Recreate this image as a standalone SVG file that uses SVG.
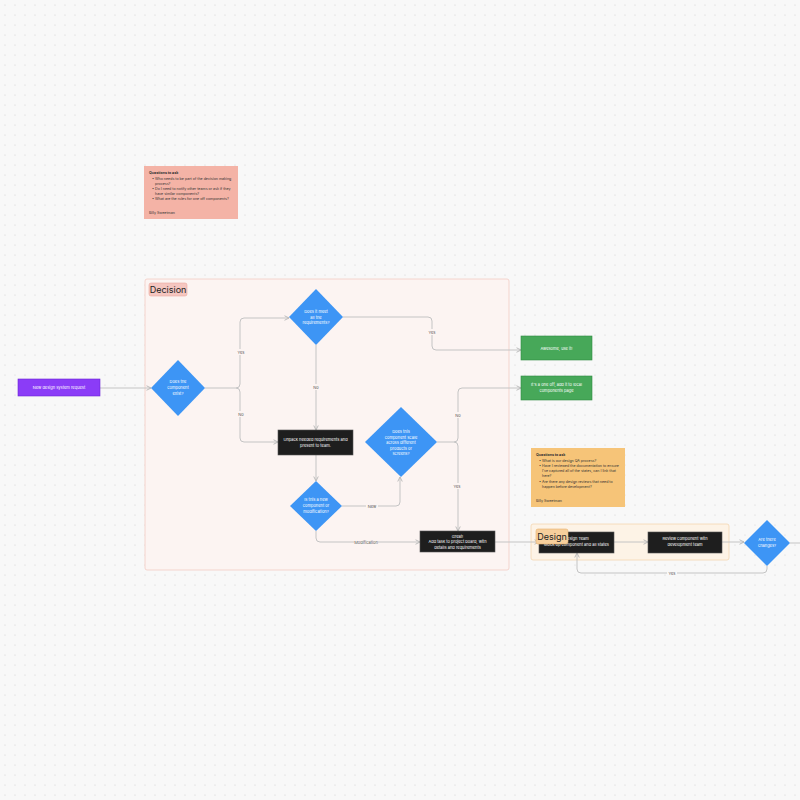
<svg xmlns="http://www.w3.org/2000/svg" width="800" height="800" viewBox="0 0 800 800">
<defs>
<pattern id="dots" width="10" height="10" patternUnits="userSpaceOnUse"><circle cx="5" cy="5" r="0.6" fill="#cfcfcf"/></pattern>
<marker id="ar" viewBox="0 0 8 8" refX="7" refY="4" markerWidth="6" markerHeight="6" orient="auto"><path d="M1 1 L7 4 L1 7" fill="none" stroke="#b5b5b5" stroke-width="1.2"/></marker>
</defs>
<style>
text{font-family:"Inter","Liberation Sans",sans-serif}
.w{fill:#fff;font-size:4px;text-anchor:middle}
.lbl{fill:#555;font-size:4px;text-anchor:middle}
.c{fill:none;stroke:#c4c4c4;stroke-width:1}
.dia{fill:#3d95f5}
.blk{fill:#1e1e1e;stroke:#555;stroke-width:0.6}
.grn{fill:#47a859;stroke:#2f8a42;stroke-width:0.6}
.st{font-size:3.6px;fill:#333}
</style>
<rect width="800" height="800" fill="#f8f8f8"/>
<rect width="800" height="800" fill="url(#dots)"/>
<g id="note1">
<rect x="144" y="166" width="94" height="53" fill="#f4b3a6"/>
<text class="st" x="149" y="174" font-weight="bold">Questions to ask</text>
<text class="st" x="152" y="180">•  Who needs to be part of the decision making</text>
<text class="st" x="155" y="185">process?</text>
<text class="st" x="152" y="190">•  Do I need to notify other teams or ask if they</text>
<text class="st" x="155" y="195">have similar components?</text>
<text class="st" x="152" y="200">•  What are the rules for one off components?</text>
<text class="st" x="149" y="214" fill="#777" font-size="3px">Billy Sweetman</text>
</g>
<g id="frame-decision">
<rect x="145" y="279" width="364" height="291" rx="2" fill="#fcf4f2" stroke="#f2cbc3" stroke-width="0.8"/>
<rect x="149" y="283" width="38" height="13" rx="2" fill="#f5c6c0" stroke="#e9a9a0" stroke-width="0.6"/>
<text x="168" y="293" font-size="9" text-anchor="middle" fill="#222">Decision</text>
</g>
<g id="frame-design">
<rect x="531" y="524" width="198" height="36" rx="2" fill="#fdf3e6" stroke="#f4d6b0" stroke-width="0.8"/>
</g>
<g id="note2">
<rect x="531" y="448" width="94" height="59" fill="#f6c478"/>
<text class="st" x="536" y="456" font-weight="bold">Questions to ask</text>
<text class="st" x="539" y="462">•  What is our design QA process?</text>
<text class="st" x="539" y="467">•  Have I reviewed the documentation to ensure</text>
<text class="st" x="542" y="472">I've captured all of the states, can I link that</text>
<text class="st" x="542" y="477">here?</text>
<text class="st" x="539" y="483">•  Are there any design reviews that need to</text>
<text class="st" x="542" y="488">happen before development?</text>
<text class="st" x="536" y="502" fill="#777" font-size="3px">Billy Sweetman</text>
</g>
<g id="connectors">
<path class="c" d="M100 388 H151" marker-end="url(#ar)"/>
<path class="c" d="M205 388 H236 Q240 388 240 384 V322 Q240 318 244 318 H289" marker-end="url(#ar)"/>
<path class="c" d="M236 388 Q240 388 240 392 V438 Q240 442 244 442 H278" marker-end="url(#ar)"/>
<path class="c" d="M316 345 V430" marker-end="url(#ar)"/>
<path class="c" d="M343 317 H428 Q432 317 432 321 V346 Q432 350 436 350 H521" marker-end="url(#ar)"/>
<path class="c" d="M316 455 V481" marker-end="url(#ar)"/>
<path class="c" d="M342 506 H396 Q400 506 400 502 V477" marker-end="url(#ar)"/>
<path class="c" d="M316 531 V538 Q316 542 320 542 H420" marker-end="url(#ar)"/>
<path class="c" d="M437 442 H454 Q458 442 458 438 V392 Q458 388 462 388 H521" marker-end="url(#ar)"/>
<path class="c" d="M454 442 Q458 442 458 446 V531" marker-end="url(#ar)"/>
<path class="c" d="M495 542 H539" marker-end="url(#ar)"/>
<path class="c" d="M614 542 H648" marker-end="url(#ar)"/>
<path class="c" d="M722 542 H744" marker-end="url(#ar)"/>
<path class="c" d="M790 543 H800"/>
<path class="c" d="M767 566 V569 Q767 573 763 573 H581 Q577 573 577 569 V553" marker-end="url(#ar)"/>
<g>
<rect x="237" y="349" width="8" height="6" fill="#fcf4f2"/><text class="lbl" x="241" y="353.5">Yes</text>
<rect x="237" y="411" width="8" height="6" fill="#fcf4f2"/><text class="lbl" x="241" y="415.5">No</text>
<rect x="312" y="384" width="8" height="6" fill="#fcf4f2"/><text class="lbl" x="316" y="388.5">No</text>
<rect x="428" y="329" width="8" height="6" fill="#fcf4f2"/><text class="lbl" x="432" y="333.5">Yes</text>
<rect x="366" y="503" width="12" height="6" fill="#fcf4f2"/><text class="lbl" x="372" y="507.5">New</text>
<rect x="354" y="539" width="24" height="6" fill="#fcf4f2"/><text class="lbl" x="366" y="543.5">Modification</text>
<rect x="454" y="412" width="8" height="6" fill="#fcf4f2"/><text class="lbl" x="458" y="416.5">No</text>
<rect x="453" y="483" width="8" height="6" fill="#fcf4f2"/><text class="lbl" x="457" y="487.5">Yes</text>
<rect x="667" y="570" width="10" height="6" fill="#f8f8f8"/><text class="lbl" x="672" y="574.5">Yes</text>
</g>
</g>
<g id="start"><rect x="18" y="379" width="82" height="17" fill="#8b3cf7" stroke="#6d22d6" stroke-width="0.6"/><text class="w" x="59" y="389">New design system request</text></g>
<g id="d1"><path class="dia" d="M178 360 L205 388 L178 416 L151 388Z"/><text class="w" x="178" y="383">Does the</text><text class="w" x="178" y="389">component</text><text class="w" x="178" y="395">exist?</text></g>
<g id="d2"><path class="dia" d="M316 289 L343 317 L316 345 L289 317Z"/><text class="w" x="316" y="313">Does it meet</text><text class="w" x="316" y="318.5">all the</text><text class="w" x="316" y="324">requirements?</text></g>
<g id="unpack"><rect class="blk" x="278" y="430" width="75" height="25"/><text class="w" x="315.5" y="441">Unpack needed requirements and</text><text class="w" x="315.5" y="446.5">present to team.</text></g>
<g id="d3"><path class="dia" d="M401 407 L437 442 L401 477 L365 442Z"/><text class="w" x="401" y="433">Does this</text><text class="w" x="401" y="438.5">component scale</text><text class="w" x="401" y="444">across different</text><text class="w" x="401" y="449.5">products or</text><text class="w" x="401" y="455">screens?</text></g>
<g id="d4"><path class="dia" d="M316 481 L342 506 L316 531 L290 506Z"/><text class="w" x="316" y="501">Is this a new</text><text class="w" x="316" y="507">component or</text><text class="w" x="316" y="513">modification?</text></g>
<g id="great"><rect class="blk" x="420" y="531" width="75" height="21"/><text class="w" x="457.5" y="537.5">Great!</text><text class="w" x="457.5" y="543">Add task to project board, with</text><text class="w" x="457.5" y="548.5">details and requirements</text></g>
<g id="g1"><rect class="grn" x="521" y="336" width="71" height="24"/><text class="w" x="556.5" y="349.5">Awesome, use it!</text></g>
<g id="g2"><rect class="grn" x="521" y="376" width="71" height="24"/><text class="w" x="556.5" y="386">It's a one off, add it to local</text><text class="w" x="556.5" y="391.5">components page</text></g>
<g id="designteam"><rect class="blk" x="539" y="532" width="75" height="21"/><text class="w" x="576.5" y="540">Design Team</text><text class="w" x="576.5" y="546">Mock up component and all states</text></g>
<g id="designlabel"><rect x="536" y="529" width="32" height="15" rx="2" fill="#f7cf9c" stroke="#e8b26e" stroke-width="0.6"/><text x="552" y="540" font-size="9" text-anchor="middle" fill="#222">Design</text></g>
<g id="review"><rect class="blk" x="648" y="532" width="74" height="21"/><text class="w" x="685" y="540">Review component with</text><text class="w" x="685" y="546">development team</text></g>
<g id="d5"><path class="dia" d="M767 520 L790 543 L767 566 L744 543Z"/><text class="w" x="767" y="541">Are there</text><text class="w" x="767" y="547">changes?</text></g>
</svg>
